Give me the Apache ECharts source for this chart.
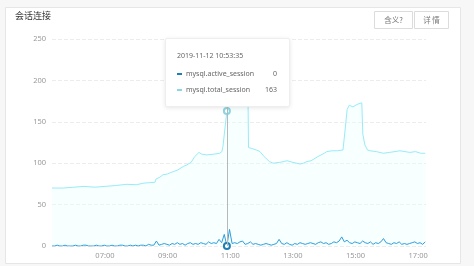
<!DOCTYPE html>
<html><head><meta charset="utf-8">
<script src="https://cdn.jsdelivr.net/npm/echarts@6/dist/echarts.min.js"></script>
<style>html,body{margin:0;padding:0;background:#f7f7f7;}#c{width:474px;height:266px;}</style>
</head><body><div id="c"></div>
<script>
var titleText = '会话连接';
var buttonLabels = ['含义?', '详 情'];
var seriesNames = ['mysql.active_session', 'mysql.total_session'];
var day = '2019-11-12';
var yTicks = [0, 50, 100, 150, 200, 250];
var xLabelHours = ['07:00', '09:00', '11:00', '13:00', '15:00', '17:00'];
var tooltipTime = '10:53:35';

var totalTimes = ['05:18:35','05:40','06:00','06:20','06:40','07:00','07:20','07:42','08:00','08:15','08:26','08:36','08:38','08:45','08:51','09:00','09:05','09:12','09:20','09:30','09:37','09:45','09:52','10:00','10:05','10:15','10:30','10:40','10:44','10:46','10:53:35','10:58','11:10','11:30','11:34','11:35','11:40','11:50','11:57','12:05','12:15','12:22','12:35','12:49','13:00','13:14','13:20','13:27','13:35','13:48','14:00','14:05','14:15','14:25','14:36','14:40','14:44','14:48','14:55','15:03','15:12','15:14','15:18','15:23','15:28','15:40','15:53','16:05','16:25','16:35','16:44','16:55','17:05','17:13:35'];
var totalValues = [70,70,71,72,71,72,73,74.5,74,76,76.5,77,81,83,86,87,88.5,90,92,96,98,101,108,113,111,110,111,112,114,120,163,190,188,186,186,119,118,116,114,108,102,100,101,103,101,99,100,102,103,108,112,114,115,115,116,140,165,170,168,171,173,135,122,116,115,114,112,113,115,114,113,114,112,112];

var activeStart = '05:18:35';
var activeStepMin = 5;
var activeValues = [0,0,1,0,0,1,0,0,0,1, 0,0,1,1,0,0,0,1,0,0, 1,0,0,1,0,0,1,1,0,0, 1,0,1,0,1,1,0,2,1,1,
  6,1,2,3,2,1,3,2,4,2, 3,1,3,4,2,3,2,4,3,2,
  5,3,4,3,8,4,14,0,
  20,3,4,3,5,6,2,3,5,2,3,2,
  1,2,3,2,1,2,3,8,3,2, 4,2,1,3,2,4,3,2,3,4,
  3,2,4,5,3,4,2,3,5,4, 6,11,5,7,4,3,5,4,3,6,
  4,3,5,2,4,3,5,9,4,3, 2,4,3,5,2,3,2,3,4,5, 3,4,2,5];

function ts(t){ var p=t.split(':'); return new Date(2019,10,12,+p[0],+p[1],p[2]?+p[2]:0).getTime(); }
var totalData = totalTimes.map(function(t,i){ return [ts(t), totalValues[i]]; });
var t0 = ts(activeStart);
var activeData = activeValues.map(function(v,i){ return [t0 + i*activeStepMin*60000, v]; });
var tipIndex = totalTimes.indexOf(tooltipTime);

function pad(n){ return (n<10?'0':'')+n; }
var font = '"Noto Sans","Noto Sans CJK SC",sans-serif';

var chart = echarts.init(document.getElementById('c'), null, {renderer:'canvas'});
chart.setOption({
  animation: false,
  backgroundColor: '#f7f7f7',
  textStyle: {fontFamily: font},
  graphic: [
    {type:'rect', z:-10, shape:{x:5.5,y:7.5,width:455,height:256}, style:{fill:'#ffffff', stroke:'#e6e6e6', lineWidth:1}},
    {type:'text', left:15, top:11, style:{text:titleText, fill:'#333', font:'9px "Noto Sans CJK SC", sans-serif'}},
    {type:'rect', shape:{x:374.5,y:11.5,width:38,height:17}, style:{fill:'#fff', stroke:'#dcdcdc', lineWidth:1}},
    {type:'text', x:393.5, y:20, style:{text:buttonLabels[0], fill:'#777', font:'7.5px "Noto Sans CJK SC", sans-serif', align:'center', verticalAlign:'middle'}},
    {type:'rect', shape:{x:414.5,y:11.5,width:34,height:17}, style:{fill:'#fff', stroke:'#dcdcdc', lineWidth:1}},
    {type:'text', x:431.5, y:20, style:{text:buttonLabels[1], fill:'#777', font:'7.5px "Noto Sans CJK SC", sans-serif', align:'center', verticalAlign:'middle'}}
  ],
  grid: {left:52, right:48, top:39, bottom:20},
  tooltip: {
    trigger:'axis', triggerOn:'none', alwaysShowContent:true, transitionDuration:0,
    position: [165, 38],
    backgroundColor:'#fff', borderColor:'#eeeeee', borderWidth:1, padding:[12,12,8,11],
    extraCssText:'box-shadow:0 1px 4px rgba(0,0,0,0.10);border-radius:2px;width:100px;box-sizing:content-box;',
    axisPointer:{type:'line', lineStyle:{color:'#b8b8b8', width:1, type:'solid'}, animation:false},
    formatter: function(params){
      var d = new Date(params[0].value[0]);
      var head = day + ' ' + pad(d.getHours())+':'+pad(d.getMinutes())+':'+pad(d.getSeconds());
      var s = '<div style="font-family:'+font.replace(/"/g,"'")+';font-size:7px;color:#666;"><div style="line-height:10px;margin-bottom:5px">'+head+'</div>';
      params.forEach(function(p){
        s += '<div style="display:flex;align-items:center;line-height:16px;height:16px"><span style="display:inline-block;width:5px;height:2px;background:'+p.color+';margin-right:4px"></span><span style="flex:1">'+p.seriesName+'</span><span>'+p.value[1]+'</span></div>';
      });
      return s + '</div>';
    }
  },
  xAxis: {
    type:'time', min: ts('05:18:35'), max: ts('17:15'),
    minInterval: 3600000, maxInterval: 3600000,
    axisLine:{show:false}, axisTick:{show:false}, splitLine:{show:false},
    axisLabel:{color:'#999', fontSize:7.5, margin:6, hideOverlap:false,
      formatter:function(v){ var d=new Date(v); var s=pad(d.getHours())+':'+pad(d.getMinutes()); return xLabelHours.indexOf(s)>=0 ? s : ''; }}
  },
  yAxis: {
    type:'value', min:yTicks[0], max:yTicks[yTicks.length-1], interval:50,
    axisLine:{show:false}, axisTick:{show:false},
    axisLabel:{color:'#999', fontSize:7.5, margin:6},
    splitLine:{lineStyle:{color:'#ececec', type:'dashed'}}
  },
  series: [
    {name:seriesNames[0], type:'line', data:activeData, showSymbol:false, symbolSize:4, z:3,
      lineStyle:{color:'#2a8fc7', width:1}, itemStyle:{color:'#1f7fb5'}},
    {name:seriesNames[1], type:'line', data:totalData, showSymbol:false, symbolSize:4, z:2,
      lineStyle:{color:'#8ad6e2', width:1}, itemStyle:{color:'#8ad6e2', borderColor:'#c9eef4'},
      areaStyle:{color:'rgba(215,244,250,0.55)'}}
  ]
});
chart.dispatchAction({type:'showTip', seriesIndex:1, dataIndex:tipIndex});
</script>
</body></html>
